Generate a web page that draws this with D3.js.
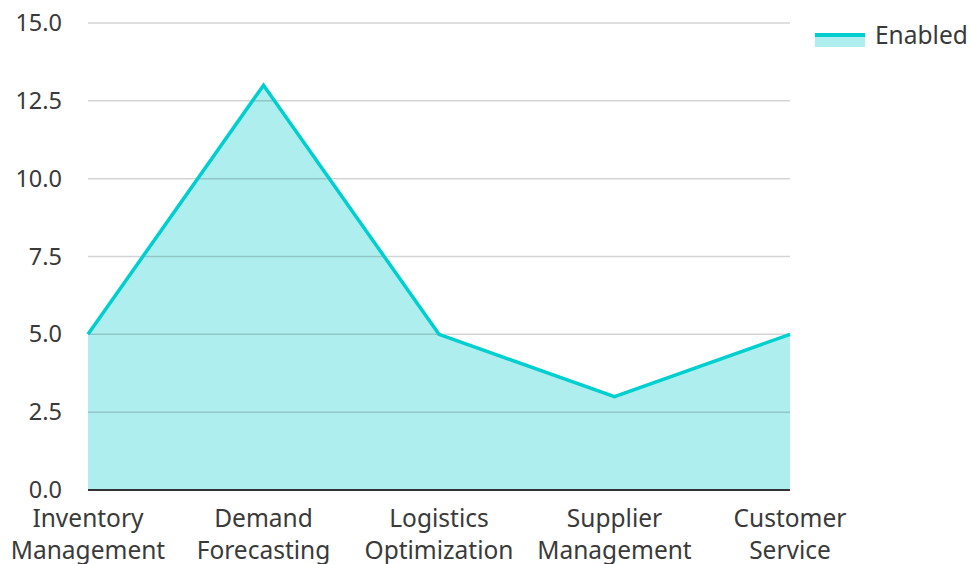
<!DOCTYPE html>
<html>
<head>
<meta charset="utf-8">
<script src="https://cdn.jsdelivr.net/npm/d3@7"></script>
<style>
  body { margin: 0; background: #fff; }
  svg { font-family: "Noto Sans", "Open Sans", sans-serif; }
</style>
</head>
<body>
<div id="chart"></div>
<script>
const categories = [
  ["Inventory", "Management"],
  ["Demand", "Forecasting"],
  ["Logistics", "Optimization"],
  ["Supplier", "Management"],
  ["Customer", "Service"]
];
const enabled = [5, 13, 5, 3, 5];
const yTicks = [0, 2.5, 5, 7.5, 10, 12.5, 15];
const seriesName = "Enabled";

const width = 971, height = 564;
const plot = { left: 88, right: 790, top: 23, bottom: 490 };

const svg = d3.select("#chart").append("svg")
  .attr("width", width)
  .attr("height", height);

const x = d3.scalePoint()
  .domain(d3.range(categories.length))
  .range([plot.left, plot.right]);

const y = d3.scaleLinear()
  .domain([0, 15])
  .range([plot.bottom, plot.top]);

// area fill
const area = d3.area()
  .x((d, i) => x(i))
  .y0(y(0))
  .y1(d => y(d));

svg.append("path")
  .datum(enabled)
  .attr("d", area)
  .attr("fill", "#aeeeee");

// grid lines (drawn over the fill)
svg.append("g")
  .selectAll("line")
  .data(yTicks.filter(t => t > 0))
  .enter()
  .append("line")
  .attr("x1", plot.left)
  .attr("x2", plot.right)
  .attr("y1", d => y(d))
  .attr("y2", d => y(d))
  .attr("stroke", "#000")
  .attr("stroke-opacity", 0.17)
  .attr("stroke-width", 1.5);

// y axis labels
const yAxis = svg.append("g")
  .attr("transform", "translate(" + (plot.left - 26) + ",0)")
  .call(d3.axisLeft(y).tickValues(yTicks).tickFormat(d3.format(".1f")).tickSize(0).tickPadding(0));
yAxis.select(".domain").remove();
yAxis.selectAll("text")
  .attr("font-size", 23.5)
  .attr("font-family", "Noto Sans, Open Sans, sans-serif")
  .attr("fill", "#3a3a3a");

// line
const line = d3.line()
  .x((d, i) => x(i))
  .y(d => y(d));

svg.append("path")
  .datum(enabled)
  .attr("d", line)
  .attr("fill", "none")
  .attr("stroke", "#00cfd0")
  .attr("stroke-width", 3.5)
  .attr("stroke-linejoin", "miter");

// x axis baseline
svg.append("line")
  .attr("x1", plot.left)
  .attr("x2", plot.right)
  .attr("y1", y(0))
  .attr("y2", y(0))
  .attr("stroke", "#333")
  .attr("stroke-width", 2);

// x axis labels
const xLabels = svg.append("g")
  .selectAll("text")
  .data(categories)
  .enter()
  .append("text")
  .attr("x", (d, i) => x(i))
  .attr("y", 527)
  .attr("text-anchor", "middle")
  .attr("font-size", 24.5)
  .attr("fill", "#3a3a3a");

xLabels.selectAll("tspan")
  .data(d => d)
  .enter()
  .append("tspan")
  .attr("x", function () { return d3.select(this.parentNode).attr("x"); })
  .attr("dy", (d, i) => i === 0 ? 0 : 32)
  .text(d => d);

// legend
const legend = svg.append("g").attr("transform", "translate(815,35)");
legend.append("rect")
  .attr("x", 0).attr("y", 0)
  .attr("width", 50).attr("height", 12)
  .attr("fill", "#aeeeee");
legend.append("line")
  .attr("x1", 0).attr("x2", 50)
  .attr("y1", 0).attr("y2", 0)
  .attr("stroke", "#00cfd0")
  .attr("stroke-width", 4);
legend.append("text")
  .attr("x", 60).attr("y", 9)
  .attr("font-size", 24.5)
  .attr("fill", "#3a3a3a")
  .text(seriesName);
</script>
</body>
</html>
